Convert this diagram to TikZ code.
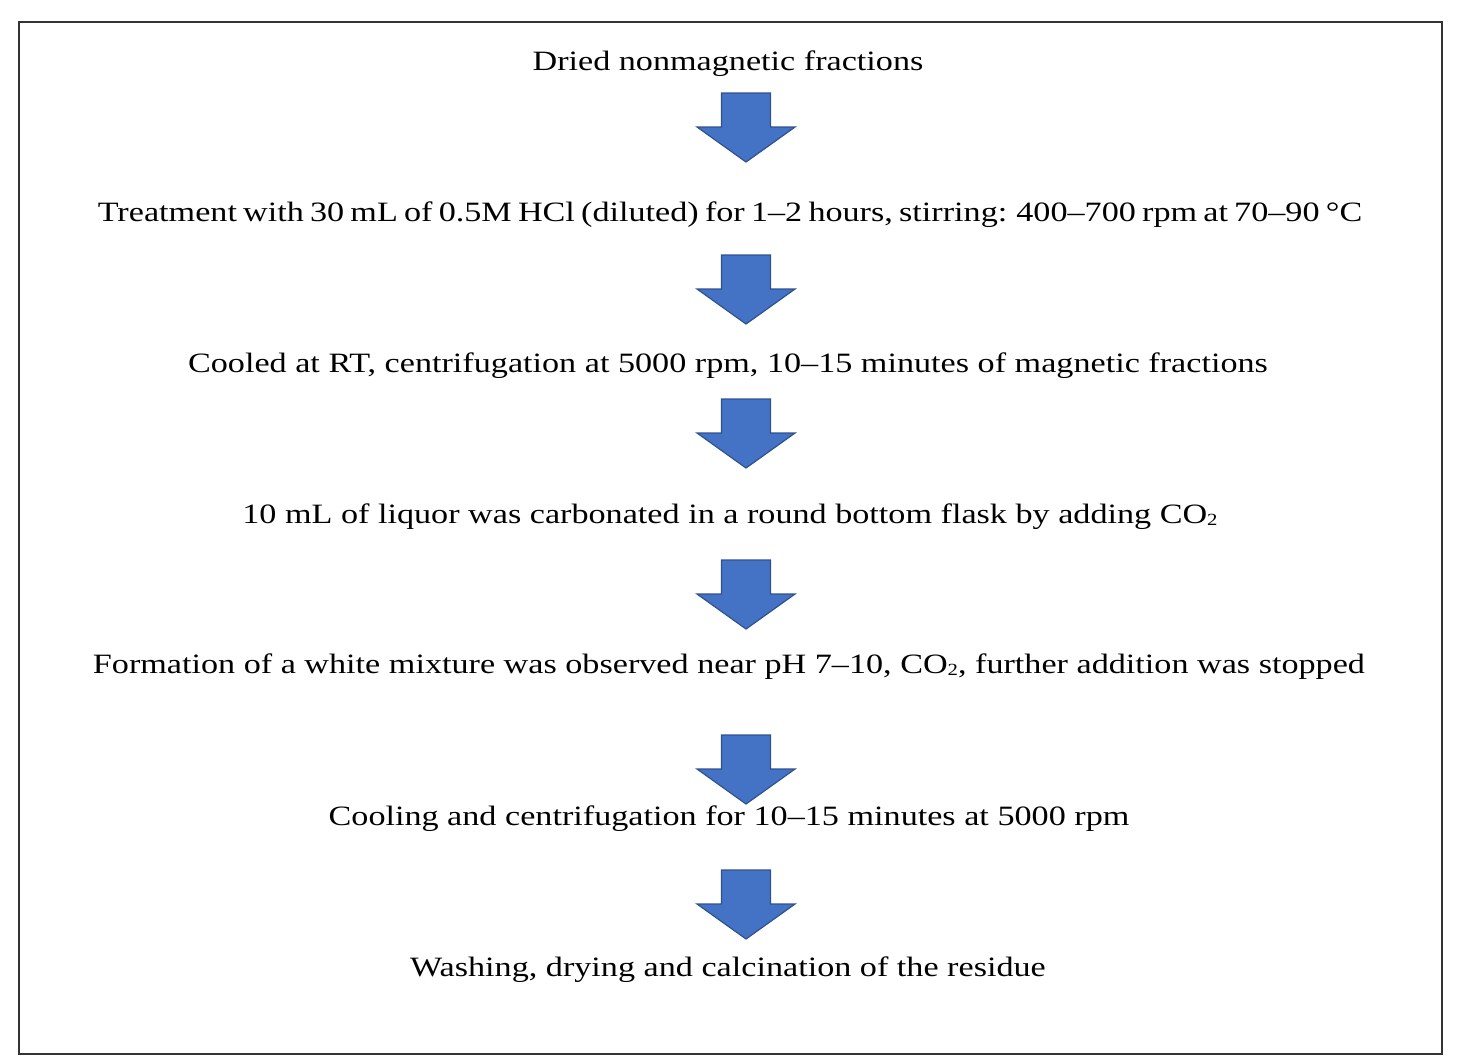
\documentclass[tikz,border=0pt]{standalone}
\usepackage{fontspec}
\setmainfont[FakeStretch=1.22]{Liberation Serif}
\definecolor{arrfill}{HTML}{4472C4}
\definecolor{arrline}{HTML}{2F528F}
\definecolor{framec}{HTML}{333333}
\newcommand\subtwo{\raisebox{-0.08em}{\fontsize{17}{20}\selectfont 2}}
\newcommand\tightspaces{\spaceskip=6.2pt plus 1pt minus 1pt\relax}
\tikzset{
  steptext/.style={anchor=base, inner sep=0pt, font=\fontsize{28}{32}\selectfont},
  blockarrow/.style={fill=arrfill, draw=arrline, line width=1.2pt, line join=miter},
  framebox/.style={draw=framec, line width=2pt}
}
\newcommand\downblock[2]{% #1 = name, #2 = top y
  \coordinate (#1) at (746,#2);
  \path[blockarrow] ([xshift=-24.5pt]#1) -- ([xshift=24.5pt]#1) -- ([xshift=24.5pt,yshift=-34pt]#1)
    -- ([xshift=49pt,yshift=-34pt]#1) -- ([yshift=-69pt]#1) -- ([xshift=-49pt,yshift=-34pt]#1)
    -- ([xshift=-24.5pt,yshift=-34pt]#1) -- cycle;
}
\begin{document}
\begin{tikzpicture}[x=1pt,y=-1pt]
\useasboundingbox (0,0) rectangle (1471,1061);
\draw[framebox] (19,22) rectangle (1442,1054);
\node[steptext] (t1) at (728,70) {Dried nonmagnetic fractions};
\node[steptext] (t2) at (730,221) {\tightspaces Treatment with 30 mL of 0.5M HCl (diluted) for 1–2 hours, stirring: 400–700 rpm at 70–90 °C};
\node[steptext] (t3) at (728,372) {Cooled at RT, centrifugation at 5000 rpm, 10–15 minutes of magnetic fractions};
\node[steptext] (t4) at (730,523) {10 mL of liquor was carbonated in a round bottom flask by adding CO\subtwo};
\node[steptext] (t5) at (729,673) {Formation of a white mixture was observed near pH 7–10, CO\subtwo, further addition was stopped};
\node[steptext] (t6) at (729,825) {Cooling and centrifugation for 10–15 minutes at 5000 rpm};
\node[steptext] (t7) at (728,976) {Washing, drying and calcination of the residue};
\downblock{a1}{93}
\downblock{a2}{255}
\downblock{a3}{399}
\downblock{a4}{560}
\downblock{a5}{735}
\downblock{a6}{870}
\end{tikzpicture}
\end{document}
